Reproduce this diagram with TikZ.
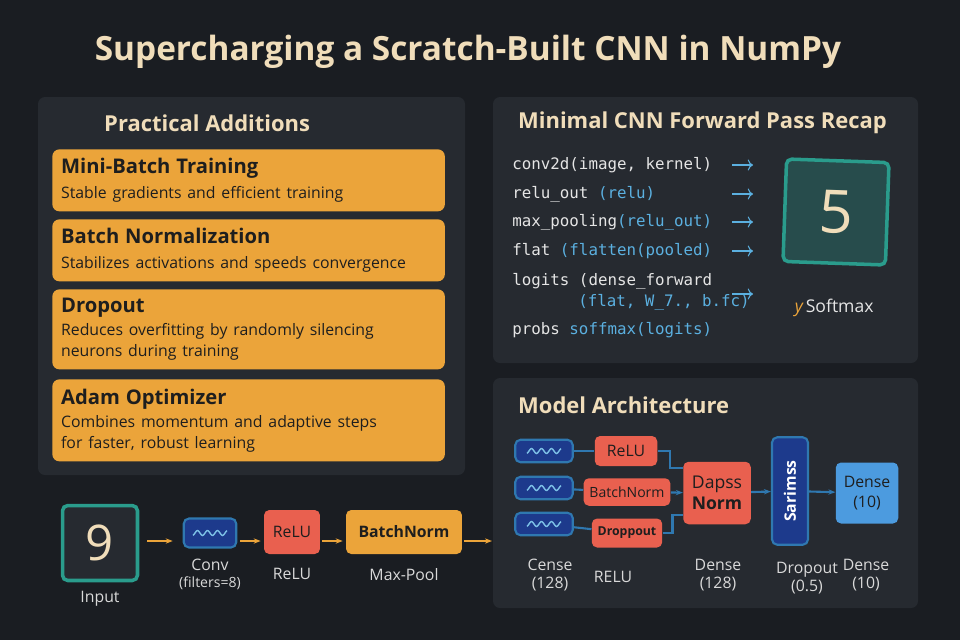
\documentclass[tikz,border=0pt]{standalone}
\usepackage{fontspec}
\setmainfont{Open Sans}
\newfontfamily\codefont{DejaVu Sans Mono}
\usetikzlibrary{arrows.meta, positioning, calc}
\definecolor{bgdark}{HTML}{1A1D22}
\definecolor{panel}{HTML}{262A30}
\definecolor{cream}{HTML}{F0DDBA}
\definecolor{amber}{HTML}{EBA43A}
\definecolor{coral}{HTML}{E9604F}
\definecolor{navy}{HTML}{1D3A8C}
\definecolor{wire}{HTML}{2F78B0}
\definecolor{skyblue}{HTML}{4C9BDF}
\definecolor{teal}{HTML}{2A9C8C}
\definecolor{codeblue}{HTML}{5BB0E0}
\definecolor{ink}{HTML}{1E1E1E}

\tikzset{
  panelbox/.style={fill=panel, rounded corners=4pt, draw=none},
  addbox/.style={fill=amber, rounded corners=4pt, text width=7.5cm, align=left, inner sep=5pt, anchor=north west, text=ink},
  redbox/.style={fill=coral, rounded corners=3pt, text=ink, font=\fontsize{8}{9}\selectfont},
  wavebox/.style={fill=navy, draw=wire, line width=1.2pt, rounded corners=3pt, minimum width=1.15cm, minimum height=0.45cm},
  lbl/.style={text=white!85!black, align=center, font=\fontsize{9}{10}\selectfont},
  flow/.style={-{Stealth[length=4pt]}, amber, line width=1pt},
  link/.style={wire, line width=1.2pt},
  codearr/.style={-{To[length=3pt]}, codeblue, line width=0.6pt},
  code/.style={anchor=west, text=white!90!black, font=\codefont\fontsize{9}{10}\selectfont, inner sep=0pt},
}
\newcommand{\wave}[1]{\draw[codeblue!80!white, line width=0.8pt, shift={(#1)}]
  plot[domain=-17:17, samples=30, smooth] (\x,{2.5*sin(\x*36)});}

\begin{document}
\begin{tikzpicture}[x=0.02cm, y=-0.02cm]
  \fill[bgdark] (0,0) rectangle (960,640);
  \useasboundingbox (0,0) rectangle (960,640);

  \node (title) [text=cream, font=\bfseries\fontsize{19}{22}\selectfont] at (468,52) {Supercharging a Scratch-Built CNN in NumPy};

  %----------------------------------------------------------------
  \fill[panelbox] (38,97) rectangle (465,475);
  \node (addtitle) [text=cream, font=\bfseries\fontsize{12.5}{14}\selectfont, anchor=west] at (98,123) {Practical Additions};

  \node (minibatch) [addbox, minimum height=1.24cm] at (52,149) {{\bfseries\fontsize{11.5}{13}\selectfont Mini-Batch Training}\\[2pt]
    {\fontsize{9}{11}\selectfont Stable gradients and efficient training}};
  \node (batchnorm) [addbox, minimum height=1.24cm] at (52,219) {{\bfseries\fontsize{11.5}{13}\selectfont Batch Normalization}\\[2pt]
    {\fontsize{9}{11}\selectfont Stabilizes activations and speeds convergence}};
  \node (dropout) [addbox, minimum height=1.6cm] at (52,289) {{\bfseries\fontsize{11.5}{13}\selectfont Dropout}\\[2pt]
    {\fontsize{9}{11}\selectfont Reduces overfitting by randomly silencing\\ neurons during training}};
  \node (adam) [addbox, minimum height=1.64cm] at (52,379) {{\bfseries\fontsize{11.5}{13}\selectfont Adam Optimizer}\\[2pt]
    {\fontsize{9}{11}\selectfont Combines momentum and adaptive steps\\ for faster, robust learning}};

  %----------------------------------------------------------------
  \fill[panelbox] (493,97) rectangle (918,363);
  \node (recap) [text=cream, font=\bfseries\fontsize{12.5}{14}\selectfont, anchor=west] at (512,123) {Minimal CNN Forward Pass Recap};

  \node (c1) [code] at (512,165) {conv2d(image, kernel)};
  \node (c2) [code] at (512,194) {relu\_out \textcolor{codeblue}{(relu)}};
  \node (c3) [code] at (512,222) {max\_pooling\textcolor{codeblue}{(relu\_out)}};
  \node (c4) [code] at (512,251) {flat \textcolor{codeblue}{(flatten(pooled)}};
  \node (c5) [code] at (512,281) {logits (dense\_forward};
  \node (c5b) [code, text=codeblue] at (578,302) {(flat, W\_7., b.fc)};
  \node (c6) [code] at (512,330) {probs \textcolor{codeblue}{soffmax(logits)}};
  \foreach \y in {165,194,222,251,294}
    \draw[codearr] (732,\y) -- (753,\y);

  \node (digit) [draw=teal, line width=2pt, fill=teal!30!panel, rounded corners=3pt, minimum size=2.05cm, rotate=-2, text=cream, font=\fontsize{34}{36}\selectfont] at (836,212) {5};
  \node (softmax) [text=white!90!black, font=\fontsize{10}{12}\selectfont, below=0.55cm of digit] {\textcolor{amber}{\itshape y}\,Softmax};

  %----------------------------------------------------------------
  \fill[panelbox] (493,378) rectangle (918,608);
  \node (arch) [text=cream, font=\bfseries\fontsize{12.5}{14}\selectfont, anchor=west] at (512,405) {Model Architecture};

  \node (w1) [wavebox] at (544,451) {};
  \node (w2) [wavebox] at (544,488) {};
  \node (w3) [wavebox] at (544,524) {};
  \wave{w1} \wave{w2} \wave{w3}

  \node (relu) [redbox, minimum width=1.25cm, minimum height=0.6cm, font=\fontsize{9}{10}\selectfont] at (626,451) {ReLU};
  \node (bn) [redbox, minimum width=1.65cm, minimum height=0.55cm] at (627,492) {BatchNorm};
  \node (drop) [redbox, minimum width=1.4cm, minimum height=0.58cm, font=\bfseries\fontsize{7}{8}\selectfont] at (627,533) {Droppout};
  \node (dapss) [redbox, minimum width=1.35cm, minimum height=1.25cm, align=center, font=\fontsize{10}{12}\selectfont] at (717,493) {Dapss\\ \bfseries Norm};
  \node (sarimss) [fill=navy, draw=wire, line width=1.2pt, rounded corners=3pt, minimum width=0.72cm, minimum height=2.15cm] at (790,491) {};
  \node [rotate=90, text=white, font=\bfseries\fontsize{9}{10}\selectfont] at (sarimss) {Sarimss};
  \node (dense10) [fill=skyblue, rounded corners=3pt, minimum width=1.25cm, minimum height=1.22cm, align=center, text=ink, font=\fontsize{9}{11}\selectfont] at (867,493) {Dense\\(10)};

  \draw[link] (w1) -- (relu);
  \draw[link] (w2) -- (bn);
  \draw[link] (w3) -- (drop);
  \draw[link] (relu.east) -| ($(relu.east)+(12,0)$) |- ($(dapss.west)+(0,-25)$);
  \draw[link, -{Stealth[length=4pt]}] (bn) -- (dapss);
  \draw[link] (drop.east) -| ($(drop.east)+(10,0)$) |- ($(dapss.west)+(0,22)$);
  \draw[link, -{Stealth[length=4pt]}] (dapss) -- (sarimss);
  \draw[link, -{Stealth[length=4pt]}] (sarimss) -- (dense10);

  \node (l1) [lbl] at (550,575) {Cense\\(128)};
  \node (l2) [lbl] at (613,577) {RELU};
  \node (l3) [lbl] at (718,575) {Dense\\(128)};
  \node (l4) [lbl] at (807,578) {Dropout\\(0.5)};
  \node (l5) [lbl] at (866,575) {Dense\\(10)};

  %----------------------------------------------------------------
  \node (input) [draw=teal, line width=2pt, fill=panel, rounded corners=3pt, minimum size=1.5cm, text=cream, font=\fontsize{28}{30}\selectfont] at (100,543) {9};
  \node (inlbl) [lbl, below=0.05cm of input] {Input};
  \node (conv) [wavebox, minimum width=1.05cm, minimum height=0.58cm] at (210,533) {};
  \wave{conv}
  \node (convlbl) [lbl, below=0.08cm of conv, font=\fontsize{9}{10}\selectfont] {Conv\\ {\fontsize{8}{9}\selectfont(filters=8)}};
  \node (relu2) [redbox, minimum width=1.12cm, minimum height=0.88cm, font=\fontsize{9}{10}\selectfont] at (292,532) {ReLU};
  \node (relulbl) [lbl, below=0.15cm of relu2] {ReLU};
  \node (bn2) [fill=amber, rounded corners=3pt, minimum width=2.32cm, minimum height=0.88cm, text=ink, font=\bfseries\fontsize{9}{10}\selectfont] at (404,532) {BatchNorm};
  \node (bnlbl) [lbl, below=0.15cm of bn2] {Max-Pool};
  \coordinate (outflow) at (492,541);

  \draw[flow] ($(input.east)+(8,-2)$) -- ($(conv.west)+(-10,8)$);
  \draw[flow] ($(conv.east)+(3,8)$) -- ($(relu2.west)+(-3,9)$);
  \draw[flow] ($(relu2.east)+(2,9)$) -- ($(bn2.west)+(-3,9)$);
  \draw[flow] ($(bn2.east)+(2,9)$) -- (outflow);
\end{tikzpicture}
\end{document}
